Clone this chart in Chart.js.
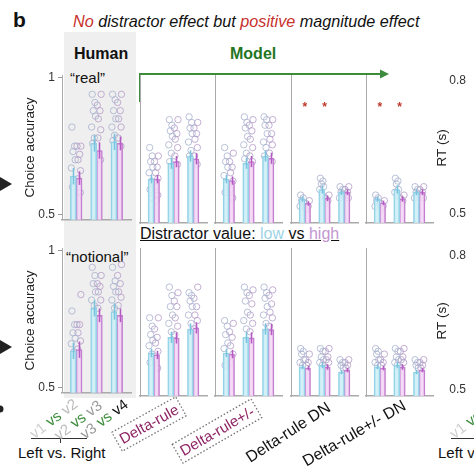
<!DOCTYPE html>
<html><head><meta charset="utf-8">
<script src="https://cdn.jsdelivr.net/npm/chart.js@4.4.1/dist/chart.umd.min.js"></script>
<style>
html,body{margin:0;padding:0;background:#fff;}
body{width:474px;height:474px;overflow:hidden;position:relative;font-family:"Liberation Sans",Arial,Helvetica,sans-serif;color:#111;}
.abs{position:absolute;white-space:nowrap;line-height:1;}
canvas{position:absolute;}
</style></head><body>
<div class="abs" style="left:64px;top:32px;width:72px;height:366px;background:#efefef;"></div>
<div class="abs" style="left:13px;top:9px;font-size:21px;font-weight:bold;">b</div>
<div class="abs" style="left:73px;top:13px;font-size:16.2px;font-style:italic;"><span style="color:#c8302c">No</span> distractor effect but <span style="color:#c8302c">positive</span> magnitude effect</div>
<div class="abs" style="left:74px;top:46px;font-size:16px;font-weight:bold;">Human</div>
<div class="abs" style="left:230px;top:46px;font-size:16px;font-weight:bold;color:#23761f;">Model</div>
<div class="abs" style="left:70px;top:70px;font-size:15px;">“real”</div>
<div class="abs" style="left:66px;top:249px;font-size:15px;">“notional”</div>
<div class="abs" style="left:140px;top:226px;font-size:16px;text-decoration:underline;">Distractor value: <span style="color:#9dd4e6">low</span> vs <span style="color:#c197d2">high</span></div>
<div class="abs" style="left:18px;top:445px;font-size:15px;">Left vs. Right</div>
<div class="abs" style="left:438px;top:445px;font-size:15px;">Left vs. Right</div>

<svg class="abs" style="left:0;top:0;" width="474" height="474">
  <polyline points="140,102 140,74 383,74" fill="none" stroke="#3d8b3d" stroke-width="2"/>
  <polygon points="380,69.5 389,74 380,78.5" fill="#3d8b3d"/>
  <polygon points="0,177 12,184 0,191" fill="#222"/>
  <polygon points="0,340 12,347 0,354" fill="#222"/>
  <circle cx="0" cy="409" r="3.5" fill="#222"/>
  <line x1="31" y1="438.5" x2="87" y2="438.5" stroke="#333" stroke-width="1"/>
  <line x1="60.5" y1="438" x2="60.5" y2="443" stroke="#333" stroke-width="1"/>
  <line x1="451" y1="438.5" x2="480" y2="438.5" stroke="#333" stroke-width="1"/>
</svg>

<script>
// ---------------- data ----------------
const pairs = ['v1 vs v2', 'v2 vs v3', 'v3 vs v4'];
const models = ['Human', 'Delta-rule', 'Delta-rule+/-', 'Delta-rule DN', 'Delta-rule+/- DN'];
const valueTicks = [0.5, 1];
const rtTicks = [0.5, 0.8];

// "real" row: mean choice accuracy per pair (low / high distractor)
const realLow  = [[0.640, 0.760, 0.766], [0.637, 0.694, 0.720], [0.637, 0.694, 0.720], [0.566, 0.600, 0.590], [0.566, 0.600, 0.590]];
const realHigh = [[0.633, 0.734, 0.760], [0.637, 0.700, 0.710], [0.632, 0.700, 0.712], [0.550, 0.568, 0.590], [0.552, 0.566, 0.590]];
const realLowErr  = [[0.030, 0.030, 0.030], [0.015, 0.020, 0.020], [0.015, 0.020, 0.020], [0.010, 0.015, 0.010], [0.010, 0.015, 0.010]];
const realHighErr = [[0.025, 0.030, 0.025], [0.015, 0.020, 0.020], [0.015, 0.020, 0.020], [0.008, 0.010, 0.010], [0.008, 0.010, 0.010]];
const realSig = [[], [], [], [0, 1], [0, 1]];

// "notional" row
const notionalLow  = [[0.634, 0.790, 0.778], [0.634, 0.690, 0.720], [0.634, 0.690, 0.720], [0.584, 0.590, 0.566], [0.584, 0.590, 0.566]];
const notionalHigh = [[0.638, 0.764, 0.764], [0.627, 0.688, 0.724], [0.630, 0.688, 0.718], [0.580, 0.584, 0.573], [0.580, 0.584, 0.573]];
const notionalLowErr  = [[0.030, 0.030, 0.030], [0.015, 0.020, 0.020], [0.015, 0.020, 0.020], [0.008, 0.010, 0.008], [0.008, 0.010, 0.008]];
const notionalHighErr = [[0.030, 0.025, 0.025], [0.015, 0.020, 0.020], [0.015, 0.020, 0.020], [0.008, 0.010, 0.008], [0.008, 0.010, 0.008]];
const notionalSig = [[], [], [], [], []];

// individual subjects / simulations (visible ones)
const realLowDots = [
  [[0.82,0.75,0.73,0.70,0.67,0.62,0.60],[0.94,0.91,0.88,0.86,0.82,0.78,0.76],[0.94,0.92,0.88,0.85,0.82,0.79,0.77]],
  [[0.75,0.72,0.70,0.68,0.66,0.63,0.60,0.57],[0.85,0.83,0.81,0.79,0.76,0.73,0.70],[0.86,0.84,0.82,0.80,0.77,0.74,0.72]],
  [[0.75,0.72,0.70,0.68,0.65,0.62,0.59],[0.86,0.84,0.82,0.79,0.76,0.73,0.71],[0.86,0.85,0.83,0.80,0.77,0.75,0.72]],
  [[0.58,0.57,0.56,0.55,0.54],[0.64,0.63,0.62,0.61,0.60,0.58],[0.61,0.60,0.59,0.58,0.57]],
  [[0.58,0.57,0.56,0.55,0.54],[0.64,0.63,0.62,0.60,0.59,0.58],[0.61,0.60,0.59,0.58,0.57]]
];
const realHighDots = [
  [[0.75,0.75,0.72,0.70,0.66,0.63,0.58],[0.94,0.90,0.88,0.85,0.81,0.78,0.70],[0.94,0.91,0.88,0.85,0.82,0.78,0.75]],
  [[0.72,0.70,0.68,0.66,0.64,0.61,0.58,0.56],[0.85,0.82,0.80,0.78,0.75,0.72,0.69],[0.84,0.82,0.80,0.78,0.75,0.72,0.69]],
  [[0.73,0.70,0.68,0.66,0.63,0.60,0.57],[0.85,0.83,0.81,0.78,0.75,0.72,0.70],[0.85,0.83,0.80,0.78,0.76,0.73,0.70]],
  [[0.56,0.55,0.54,0.53],[0.58,0.57,0.56,0.55],[0.61,0.60,0.59,0.58,0.57]],
  [[0.56,0.55,0.54,0.53],[0.58,0.57,0.56,0.55],[0.61,0.60,0.59,0.58,0.57]]
];
const notionalLowDots = [
  [[0.78,0.73,0.70,0.68,0.66,0.63],[0.94,0.91,0.88,0.85,0.82,0.80],[0.94,0.89,0.87,0.85,0.82,0.79]],
  [[0.76,0.73,0.70,0.68,0.66,0.63,0.60],[0.87,0.84,0.80,0.77,0.74,0.71],[0.85,0.84,0.82,0.80,0.77,0.74]],
  [[0.75,0.73,0.70,0.67,0.65,0.62,0.59],[0.87,0.85,0.82,0.78,0.75,0.72],[0.87,0.85,0.83,0.80,0.77,0.74]],
  [[0.65,0.64,0.63,0.61,0.60,0.59],[0.65,0.64,0.62,0.61,0.60,0.59],[0.61,0.60,0.59,0.58]],
  [[0.65,0.64,0.63,0.61,0.60,0.59],[0.65,0.64,0.62,0.61,0.60,0.59],[0.61,0.60,0.59,0.58]]
];
const notionalHighDots = [
  [[0.84,0.73,0.73,0.70,0.67,0.64],[0.91,0.88,0.87,0.85,0.82,0.79],[0.95,0.91,0.88,0.85,0.83,0.80]],
  [[0.76,0.72,0.69,0.67,0.64,0.61,0.58],[0.85,0.82,0.80,0.76,0.73,0.70],[0.87,0.83,0.80,0.77,0.75,0.72]],
  [[0.74,0.71,0.69,0.66,0.63,0.60],[0.86,0.84,0.81,0.77,0.74,0.71],[0.86,0.84,0.81,0.78,0.76,0.73]],
  [[0.63,0.61,0.60,0.59],[0.65,0.64,0.62,0.61,0.60,0.58],[0.61,0.60,0.59,0.58]],
  [[0.63,0.61,0.60,0.59],[0.65,0.64,0.62,0.61,0.60,0.58],[0.61,0.60,0.59,0.58]]
];

// ---------------- drawing ----------------
const FONT = '"Liberation Sans", Arial, Helvetica, sans-serif';
Chart.defaults.font.family = FONT;
Chart.defaults.animation = false;
Chart.defaults.devicePixelRatio = 1;

const spread = [-0.07, 0.06, -0.02, 0.09, -0.10, 0.03, -0.05, 0.07];
const half = 0.14;

function annotPlugin(sig) {
  return {
    id: 'annot',
    afterDatasetsDraw(chart) {
      const ctx = chart.ctx, xs = chart.scales.x, ys = chart.scales.y;
      chart.data.datasets.forEach(ds => {
        if (!ds.errs) return;
        ctx.save();
        ctx.strokeStyle = ds.errColor; ctx.lineWidth = 1.6;
        ds.data.forEach((pt, j) => {
          const x = Math.round(xs.getPixelForValue(pt.x)) + 0.5;
          ctx.beginPath();
          ctx.moveTo(x, ys.getPixelForValue(pt.y - ds.errs[j]));
          ctx.lineTo(x, ys.getPixelForValue(pt.y + ds.errs[j]));
          ctx.stroke();
        });
        ctx.restore();
      });
      ctx.save();
      ctx.fillStyle = '#c0392b';
      ctx.font = 'bold 12px ' + FONT;
      ctx.textAlign = 'center'; ctx.textBaseline = 'middle';
      sig.forEach(i => {
        ctx.fillText('*', xs.getPixelForValue(i + 1), ys.getPixelForValue(0.905) + 3);
      });
      ctx.restore();
    }
  };
}

function makePanel(top, m, lows, highs, lowErr, highErr, lowDots, highDots, sig) {
  const isHuman = m === 0;
  const lefts = [20, 135, 210, 286, 361];
  const widths = [116, 77, 77, 77, 77];
  const c = document.createElement('canvas');
  c.width = widths[m]; c.height = 165;
  c.style.left = lefts[m] + 'px'; c.style.top = top + 'px';
  document.body.appendChild(c);

  const dotL = [], dotH = [];
  lowDots.forEach((arr, p) => arr.forEach((v, k) => dotL.push({x: p + 1 - half + spread[k % spread.length], y: v})));
  highDots.forEach((arr, p) => arr.forEach((v, k) => dotH.push({x: p + 1 + half + spread[(k + 3) % spread.length], y: v})));

  new Chart(c, {
    type: 'bar',
    data: {
      datasets: [
        {label: 'low', data: lows.map((v, p) => ({x: p + 1 - half, y: v})), errs: lowErr, errColor: '#79c3de',
         backgroundColor: 'rgba(206,238,247,0.85)', borderColor: '#93d2e7', borderWidth: 1.5, barThickness: 6, grouped: false, order: 0},
        {label: 'high', data: highs.map((v, p) => ({x: p + 1 + half, y: v})), errs: highErr, errColor: '#b45cc4',
         backgroundColor: 'rgba(243,214,245,0.85)', borderColor: '#c57fd0', borderWidth: 1.5, barThickness: 6, grouped: false, order: 0},
        {type: 'scatter', label: 'low subjects', data: dotL, pointRadius: 3.2, pointBorderWidth: 1,
         pointBackgroundColor: 'rgba(0,0,0,0)', pointBorderColor: 'rgba(168,178,206,0.8)', order: 1},
        {type: 'scatter', label: 'high subjects', data: dotH, pointRadius: 3.2, pointBorderWidth: 1,
         pointBackgroundColor: 'rgba(0,0,0,0)', pointBorderColor: 'rgba(180,155,200,0.8)', order: 1}
      ]
    },
    options: {
      responsive: false,
      layout: {padding: {top: 10, bottom: 7, left: isHuman ? 0 : 2, right: 0}},
      plugins: {legend: {display: false}, tooltip: {enabled: false}},
      scales: {
        x: {type: 'linear', min: 0.3, max: 3.7, offset: false,
            ticks: {display: false}, grid: {display: false},
            border: {display: true, color: '#aaa', width: 1.5},
            afterFit: s => { s.height = 0; }},
        y: {type: 'linear', min: 0.48, max: 1.01,
            afterBuildTicks: s => { s.ticks = valueTicks.map(v => ({value: v})); },
            ticks: {display: isHuman, font: {size: 12}, color: '#333', padding: 3,
                    callback: v => (v === 1 ? '1' : String(v))},
            grid: {display: isHuman, drawOnChartArea: false, drawTicks: true, tickLength: 4, color: '#999'},
            border: {display: true, color: '#aaa', width: 1},
            title: {display: isHuman, text: 'Choice accuracy', font: {size: 13.5}, color: '#222', padding: {top: 2, bottom: 0}},
            afterFit: s => { s.width = isHuman ? 42 : 0; }}
      }
    },
    plugins: [annotPlugin(sig)]
  });
}

function makeRT(top, ymin, ymax) {
  const c = document.createElement('canvas');
  c.width = 60; c.height = 165;
  c.style.left = '430px'; c.style.top = top + 'px';
  document.body.appendChild(c);
  new Chart(c, {
    type: 'bar',
    data: {labels: pairs, datasets: [{label: 'RT', data: []}]},
    options: {
      responsive: false,
      layout: {padding: {top: 10, bottom: 7, left: 0, right: 0}},
      plugins: {legend: {display: false}, tooltip: {enabled: false}},
      scales: {
        x: {display: false},
        y: {type: 'linear', min: ymin, max: ymax,
            afterBuildTicks: s => { s.ticks = rtTicks.map(v => ({value: v})); },
            ticks: {font: {size: 12}, color: '#333', padding: 2},
            grid: {display: false},
            border: {display: false},
            title: {display: true, text: 'RT (s)', font: {size: 13.5}, color: '#222', padding: {top: 4, bottom: 0}},
            afterFit: s => { s.width = 46; }}
      }
    }
  });
}

models.forEach((name, m) => {
  makePanel(65, m, realLow[m], realHigh[m], realLowErr[m], realHighErr[m], realLowDots[m], realHighDots[m], realSig[m]);
  makePanel(238, m, notionalLow[m], notionalHigh[m], notionalLowErr[m], notionalHighErr[m], notionalLowDots[m], notionalHighDots[m], notionalSig[m]);
});
makeRT(65, 0.4844, 0.8133);
makeRT(238, 0.491, 0.8177);

// ---------------- rotated category labels (canvas text) ----------------
(function () {
  const c = document.createElement('canvas');
  c.width = 474; c.height = 474;
  c.style.left = '0px'; c.style.top = '0px';
  document.body.appendChild(c);
  const ctx = c.getContext('2d');
  const G = '#3c8c3c';
  function multi(cx, cy, deg, size, parts, box) {
    ctx.save();
    ctx.translate(cx, cy);
    ctx.rotate(-deg * Math.PI / 180);
    ctx.font = size + 'px ' + FONT;
    ctx.textBaseline = 'middle';
    const w = parts.reduce((s, p) => s + ctx.measureText(p[0]).width, 0);
    if (box) {
      ctx.strokeStyle = '#777'; ctx.lineWidth = 1.3; ctx.setLineDash([1.5, 2]);
      ctx.strokeRect(-w / 2 - 4, -size * 0.72, w + 8, size * 1.44);
      ctx.setLineDash([]);
    }
    let x = -w / 2;
    parts.forEach(p => { ctx.fillStyle = p[1]; ctx.fillText(p[0], x, 1); x += ctx.measureText(p[0]).width; });
    ctx.restore();
  }
  const pairColors = [['#cfcfcf', '#bdbdbd'], ['#bdbdbd', '#9a9a9a'], ['#9a9a9a', '#111']];
  const pairCenters = [[53.5, 418.5], [78, 420], [104, 419]];
  pairs.forEach((lab, i) => {
    const [a, , b] = lab.split(' ');
    multi(pairCenters[i][0], pairCenters[i][1], 37, 15,
      [[a, pairColors[i][0]], [' ', '#000'], ['vs', G], [' ', '#000'], [b, pairColors[i][1]]]);
  });
  // partially visible copy at the right edge (next panel)
  const [a0, , b0] = pairs[0].split(' ');
  multi(473.5, 418.5, 37, 15, [[a0, pairColors[0][0]], [' ', '#000'], ['vs', G], [' ', '#000'], [b0, pairColors[0][1]]]);

  const modelPos = [null, [149, 424, 29, 15, '#8e2565', true], [217, 431, 30, 15, '#8e2565', true],
                    [288, 432, 33, 16, '#111', false], [354, 433, 30, 16, '#111', false]];
  models.forEach((name, m) => {
    const p = modelPos[m];
    if (!p) return;
    multi(p[0], p[1], p[2], p[3], [[name, p[4]]], p[5]);
  });
})();
</script>
</body></html>
